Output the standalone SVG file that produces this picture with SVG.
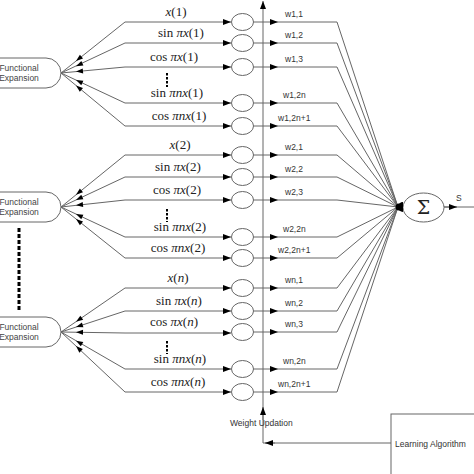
<svg xmlns="http://www.w3.org/2000/svg" width="474" height="474" viewBox="0 0 474 474">
<defs>
<marker id="ah" viewBox="0 0 8 6" refX="8" refY="3" markerWidth="8" markerHeight="6" markerUnits="userSpaceOnUse" orient="auto">
<path d="M0,0 L8,3 L0,6 Z" fill="#000"/>
</marker>
<style>
.ln{fill:none;stroke:#666;stroke-width:1}
.nd{fill:#fff;stroke:#666;stroke-width:1}
.m{font-family:"Liberation Serif","Times New Roman",serif;font-size:13px;fill:#222;text-anchor:middle}
.i{font-style:italic}
.w{font-family:"Liberation Sans",Arial,sans-serif;font-size:8.5px;fill:#333}
.fe{font-family:"Liberation Sans",Arial,sans-serif;font-size:8.5px;fill:#444;text-anchor:middle}
.dash{stroke:#000;stroke-width:2;stroke-dasharray:2.5,1.5;fill:none}
</style>
</defs>
<rect width="474" height="474" fill="#fff"/>

<g id="connectors">
<path class="ln" d="M61,73 L125,22 L231,22" marker-end="url(#ah)"/>
<path class="ln" d="M61,73 L125,43 L231,43" marker-end="url(#ah)"/>
<path class="ln" d="M61,73 L125,67 L231,67" marker-end="url(#ah)"/>
<path class="ln" d="M61,73 L125,103 L231,103" marker-end="url(#ah)"/>
<path class="ln" d="M61,73 L125,126 L231,126" marker-end="url(#ah)"/>
<path class="ln" d="M61,207 L125,155 L231,155" marker-end="url(#ah)"/>
<path class="ln" d="M61,207 L125,177 L231,177" marker-end="url(#ah)"/>
<path class="ln" d="M61,207 L125,200 L231,200" marker-end="url(#ah)"/>
<path class="ln" d="M61,207 L125,237 L231,237" marker-end="url(#ah)"/>
<path class="ln" d="M61,207 L125,258 L231,258" marker-end="url(#ah)"/>
<path class="ln" d="M61,332 L125,288 L231,288" marker-end="url(#ah)"/>
<path class="ln" d="M61,332 L125,311 L231,311" marker-end="url(#ah)"/>
<path class="ln" d="M61,332 L125,333 L231,333" marker-end="url(#ah)"/>
<path class="ln" d="M61,332 L125,369 L231,369" marker-end="url(#ah)"/>
<path class="ln" d="M61,332 L125,392 L231,392" marker-end="url(#ah)"/>
<g id="weights">
<path class="ln" d="M253.5,22 L278,22" marker-end="url(#ah)"/><path class="ln" d="M278,22 L337,22 L398,207"/>
<path class="ln" d="M253.5,43 L278,43" marker-end="url(#ah)"/><path class="ln" d="M278,43 L337,43 L398,207"/>
<path class="ln" d="M253.5,67 L278,67" marker-end="url(#ah)"/><path class="ln" d="M278,67 L337,67 L398,207"/>
<path class="ln" d="M253.5,103 L278,103" marker-end="url(#ah)"/><path class="ln" d="M278,103 L337,103 L398,207"/>
<path class="ln" d="M253.5,126 L278,126" marker-end="url(#ah)"/><path class="ln" d="M278,126 L337,126 L398,207"/>
<path class="ln" d="M253.5,155 L278,155" marker-end="url(#ah)"/><path class="ln" d="M278,155 L337,155 L398,207"/>
<path class="ln" d="M253.5,177 L278,177" marker-end="url(#ah)"/><path class="ln" d="M278,177 L337,177 L398,207"/>
<path class="ln" d="M253.5,200 L278,200" marker-end="url(#ah)"/><path class="ln" d="M278,200 L337,200 L398,207"/>
<path class="ln" d="M253.5,237 L278,237" marker-end="url(#ah)"/><path class="ln" d="M278,237 L337,237 L398,207"/>
<path class="ln" d="M253.5,258 L278,258" marker-end="url(#ah)"/><path class="ln" d="M278,258 L337,258 L398,207"/>
<path class="ln" d="M253.5,288 L278,288" marker-end="url(#ah)"/><path class="ln" d="M278,288 L337,288 L398,207"/>
<path class="ln" d="M253.5,311 L278,311" marker-end="url(#ah)"/><path class="ln" d="M278,311 L337,311 L398,207"/>
<path class="ln" d="M253.5,332 L278,332" marker-end="url(#ah)"/><path class="ln" d="M278,332 L337,332 L398,207"/>
<path class="ln" d="M253.5,369 L278,369" marker-end="url(#ah)"/><path class="ln" d="M278,369 L337,369 L398,207"/>
<path class="ln" d="M253.5,392 L278,392" marker-end="url(#ah)"/><path class="ln" d="M278,392 L337,392 L398,207"/>
</g>
<path class="ln" d="M263,443 L263,1" marker-end="url(#ah)"/>
<path class="ln" d="M263,420 L263,407" marker-end="url(#ah)"/>
<path class="ln" d="M391,443 L263,443"/>
<path class="ln" d="M275,443 L265,443" marker-end="url(#ah)"/>
<path class="ln" d="M444,207 L474,207"/>
<path class="ln" d="M444,207 L457,207" marker-end="url(#ah)"/>
<g id="fan-arrows" fill="#000">
<path d="M0,0 L7,-2.5 L7,2.5 Z" transform="translate(76,61) rotate(-38.6)"/>
<path d="M0,0 L7,-2.5 L7,2.5 Z" transform="translate(76,66.2) rotate(-24.4)"/>
<path d="M0,0 L7,-2.5 L7,2.5 Z" transform="translate(76,71.6) rotate(-5.4)"/>
<path d="M0,0 L7,-2.5 L7,2.5 Z" transform="translate(76,80.1) rotate(25.1)"/>
<path d="M0,0 L7,-2.5 L7,2.5 Z" transform="translate(76,85.4) rotate(39.7)"/>
<path d="M0,0 L7,-2.5 L7,2.5 Z" transform="translate(76,194.8) rotate(-39.1)"/>
<path d="M0,0 L7,-2.5 L7,2.5 Z" transform="translate(76,199.9) rotate(-25.2)"/>
<path d="M0,0 L7,-2.5 L7,2.5 Z" transform="translate(76,205.3) rotate(-6.2)"/>
<path d="M0,0 L7,-2.5 L7,2.5 Z" transform="translate(76,214) rotate(25.1)"/>
<path d="M0,0 L7,-2.5 L7,2.5 Z" transform="translate(76,219) rotate(38.5)"/>
<path d="M0,0 L7,-2.5 L7,2.5 Z" transform="translate(76,321.7) rotate(-34.5)"/>
<path d="M0,0 L7,-2.5 L7,2.5 Z" transform="translate(76,327) rotate(-18.1)"/>
<path d="M0,0 L7,-2.5 L7,2.5 Z" transform="translate(76,332.2) rotate(0.9)"/>
<path d="M0,0 L7,-2.5 L7,2.5 Z" transform="translate(76,340.7) rotate(30)"/>
<path d="M0,0 L7,-2.5 L7,2.5 Z" transform="translate(76,346.1) rotate(43.2)"/>
</g>
</g>

<g id="fe1"><rect class="nd" x="-30" y="58" width="91" height="30" rx="15"/><text class="fe" x="19" y="71">Functional</text><text class="fe" x="19" y="81">Expansion</text></g>
<g id="fe2"><rect class="nd" x="-30" y="192" width="91" height="30" rx="15"/><text class="fe" x="19" y="205">Functional</text><text class="fe" x="19" y="215">Expansion</text></g>
<g id="fe3"><rect class="nd" x="-30" y="317" width="91" height="30" rx="15"/><text class="fe" x="19" y="330">Functional</text><text class="fe" x="19" y="340">Expansion</text></g>

<path class="dash" d="M19,228 L19,312" style="stroke-width:3;stroke-dasharray:4,2"/>
<path class="dash" d="M167,73 L167,87"/>
<path class="dash" d="M167,209 L167,222"/>
<path class="dash" d="M167,341 L167,354"/>

<g id="labels1">
<text class="m" x="176" y="16"><tspan class="i">x</tspan>(1)</text>
<text class="m" x="181" y="37">sin <tspan class="i">πx</tspan>(1)</text>
<text class="m" x="174" y="61">cos <tspan class="i">πx</tspan>(1)</text>
<text class="m" x="177" y="97">sin <tspan class="i">πnx</tspan>(1)</text>
<text class="m" x="179" y="120">cos <tspan class="i">πnx</tspan>(1)</text>
</g>
<g id="labels2">
<text class="m" x="180" y="149"><tspan class="i">x</tspan>(2)</text>
<text class="m" x="178" y="171">sin <tspan class="i">πx</tspan>(2)</text>
<text class="m" x="177" y="194">cos <tspan class="i">πx</tspan>(2)</text>
<text class="m" x="180" y="231">sin <tspan class="i">πnx</tspan>(2)</text>
<text class="m" x="178" y="252">cos <tspan class="i">πnx</tspan>(2)</text>
</g>
<g id="labels3">
<text class="m" x="178" y="282"><tspan class="i">x</tspan>(<tspan class="i">n</tspan>)</text>
<text class="m" x="179" y="305">sin <tspan class="i">πx</tspan>(<tspan class="i">n</tspan>)</text>
<text class="m" x="174" y="326">cos <tspan class="i">πx</tspan>(<tspan class="i">n</tspan>)</text>
<text class="m" x="180" y="363">sin <tspan class="i">πnx</tspan>(<tspan class="i">n</tspan>)</text>
<text class="m" x="178" y="386">cos <tspan class="i">πnx</tspan>(<tspan class="i">n</tspan>)</text>
</g>

<g id="nodes">
<ellipse class="nd" cx="242.5" cy="22" rx="11" ry="8.5"/>
<ellipse class="nd" cx="242.5" cy="43" rx="11" ry="8.5"/>
<ellipse class="nd" cx="242.5" cy="67" rx="11" ry="8.5"/>
<ellipse class="nd" cx="242.5" cy="103" rx="11" ry="8.5"/>
<ellipse class="nd" cx="242.5" cy="126" rx="11" ry="8.5"/>
<ellipse class="nd" cx="242.5" cy="155" rx="11" ry="8.5"/>
<ellipse class="nd" cx="242.5" cy="177" rx="11" ry="8.5"/>
<ellipse class="nd" cx="242.5" cy="200" rx="11" ry="8.5"/>
<ellipse class="nd" cx="242.5" cy="237" rx="11" ry="8.5"/>
<ellipse class="nd" cx="242.5" cy="258" rx="11" ry="8.5"/>
<ellipse class="nd" cx="242.5" cy="288" rx="11" ry="8.5"/>
<ellipse class="nd" cx="242.5" cy="311" rx="11" ry="8.5"/>
<ellipse class="nd" cx="242.5" cy="332" rx="11" ry="8.5"/>
<ellipse class="nd" cx="242.5" cy="369" rx="11" ry="8.5"/>
<ellipse class="nd" cx="242.5" cy="392" rx="11" ry="8.5"/>
</g>

<g id="wlabels">
<text class="w" x="285" y="17">w1,1</text>
<text class="w" x="285" y="38">w1,2</text>
<text class="w" x="285" y="62">w1,3</text>
<text class="w" x="283" y="98">w1,2n</text>
<text class="w" x="278" y="121">w1,2n+1</text>
<text class="w" x="285" y="150">w2,1</text>
<text class="w" x="285" y="172">w2,2</text>
<text class="w" x="285" y="195">w2,3</text>
<text class="w" x="283" y="232">w2,2n</text>
<text class="w" x="278" y="253">w2,2n+1</text>
<text class="w" x="285" y="283">wn,1</text>
<text class="w" x="285" y="306">wn,2</text>
<text class="w" x="285" y="327">wn,3</text>
<text class="w" x="283" y="364">wn,2n</text>
<text class="w" x="278" y="387">wn,2n+1</text>
</g>

<g id="sum">
<ellipse class="nd" cx="423.5" cy="207.5" rx="20.5" ry="14.5"/>
<path d="M403,202 A5,5 0 0 0 403,212 Z" fill="#000"/>
<circle cx="399" cy="207" r="3.5" fill="#000"/>
<text x="423.5" y="214" style="font-family:'DejaVu Serif','Liberation Serif',serif;font-size:19px;fill:#222;text-anchor:middle">Σ</text>
</g>
<text class="w" x="456" y="201">S</text>

<text class="w" x="230" y="426">Weight Updation</text>
<g id="learning">
<rect class="nd" x="391" y="414" width="100" height="80"/>
<text class="w" x="395" y="447">Learning Algorithm</text>
</g>
</svg>
